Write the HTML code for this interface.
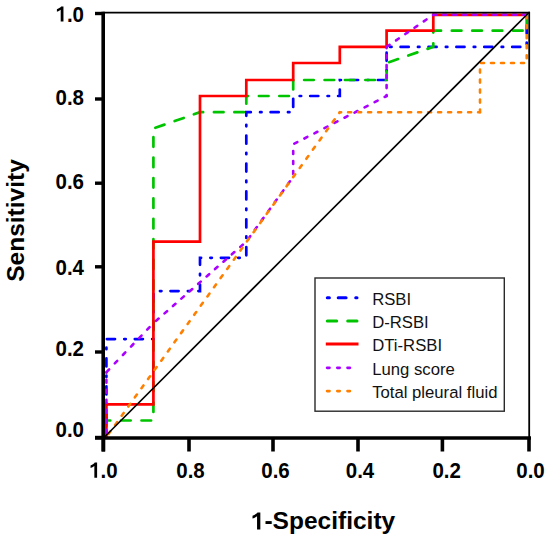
<!DOCTYPE html>
<html><head><meta charset="utf-8"><style>
html,body{margin:0;padding:0;background:#fff;width:550px;height:540px;overflow:hidden}
svg{display:block}
text{font-family:"Liberation Sans",sans-serif}
</style></head><body>
<svg width="550" height="540" viewBox="0 0 550 540">
<rect width="550" height="540" fill="#fff"/>
<path d="M106.40,437.00 L106.40,339.10 L153.40,339.10 L153.40,291.10 L200.00,291.10 L200.00,257.80 L246.30,257.80 L246.30,112.20 L293.20,112.20 L293.20,96.00 L339.80,96.00 L339.80,80.00 L386.60,80.00 L386.60,46.90 L526.70,46.90 L526.70,14.80" stroke="#0000ff" stroke-width="2.7" fill="none" stroke-linejoin="miter" stroke-linecap="round" stroke-dasharray="8.1 9.25 1.5 9.05" stroke-dashoffset="13.2"/>
<path d="M106.40,437.00 L106.40,420.50 L153.40,420.50 L153.40,128.50 L200.00,112.20 L246.30,112.20 L246.30,96.00 L293.20,96.00 L293.20,80.00 L386.60,80.00 L386.60,63.00 L433.30,46.90 L433.30,30.70 L526.70,30.70 L526.70,14.80" stroke="#00c400" stroke-width="2.7" fill="none" stroke-linejoin="miter" stroke-linecap="round" stroke-dasharray="9.6 10.8" stroke-dashoffset="9.6"/>
<path d="M106.40,437.00 L106.40,404.30 L153.40,404.30 L153.40,241.60 L200.00,241.60 L200.00,96.00 L246.30,96.00 L246.30,80.00 L293.20,80.00 L293.20,63.00 L339.80,63.00 L339.80,46.90 L386.60,46.90 L386.60,30.70 L433.30,30.70 L433.30,14.80 L526.70,14.80" stroke="#ff0000" stroke-width="2.7" fill="none" stroke-linejoin="miter"/>
<line x1="106.40" y1="437.00" x2="106.40" y2="372.20" stroke="#aa00ff" stroke-width="2.6" stroke-linecap="round" stroke-dasharray="3.00 7.00" stroke-dashoffset="5.80"/>
<line x1="106.40" y1="372.20" x2="153.40" y2="323.17" stroke="#aa00ff" stroke-width="2.6" stroke-linecap="round" stroke-dasharray="3.51 8.19" stroke-dashoffset="11.25"/>
<line x1="153.40" y1="323.17" x2="246.30" y2="241.60" stroke="#aa00ff" stroke-width="2.6" stroke-linecap="round" stroke-dasharray="3.36 7.84" stroke-dashoffset="7.58"/>
<line x1="246.30" y1="241.60" x2="293.20" y2="176.82" stroke="#aa00ff" stroke-width="2.6" stroke-linecap="round" stroke-dasharray="3.39 7.91" stroke-dashoffset="7.99"/>
<line x1="293.20" y1="176.82" x2="293.20" y2="144.29" stroke="#aa00ff" stroke-width="2.6" stroke-linecap="round" stroke-dasharray="3.00 7.00" stroke-dashoffset="7.20"/>
<line x1="293.20" y1="144.29" x2="386.60" y2="96.00" stroke="#aa00ff" stroke-width="2.6" stroke-linecap="round" stroke-dasharray="3.39 7.91" stroke-dashoffset="10.04"/>
<line x1="386.60" y1="96.00" x2="386.60" y2="46.90" stroke="#aa00ff" stroke-width="2.6" stroke-linecap="round" stroke-dasharray="3.00 7.00" stroke-dashoffset="2.10"/>
<line x1="386.60" y1="46.90" x2="433.30" y2="14.80" stroke="#aa00ff" stroke-width="2.6" stroke-linecap="round" stroke-dasharray="3.36 7.84" stroke-dashoffset="10.92"/>
<line x1="433.30" y1="14.80" x2="526.70" y2="14.80" stroke="#aa00ff" stroke-width="2.6" stroke-linecap="round" stroke-dasharray="3.00 7.00" stroke-dashoffset="0.10"/>
<line x1="106.40" y1="437.00" x2="339.80" y2="112.20" stroke="#ff8000" stroke-width="2.6" stroke-linecap="round" stroke-dasharray="3.39 7.91" stroke-dashoffset="7.69"/>
<line x1="339.80" y1="112.20" x2="480.00" y2="112.20" stroke="#ff8000" stroke-width="2.6" stroke-linecap="round" stroke-dasharray="3.00 7.00" stroke-dashoffset="1.70"/>
<line x1="480.00" y1="112.20" x2="480.00" y2="63.00" stroke="#ff8000" stroke-width="2.6" stroke-linecap="round" stroke-dasharray="3.00 7.00" stroke-dashoffset="0.40"/>
<line x1="480.00" y1="63.00" x2="526.70" y2="63.00" stroke="#ff8000" stroke-width="2.6" stroke-linecap="round" stroke-dasharray="3.00 7.00" stroke-dashoffset="9.00"/>
<line x1="526.70" y1="63.00" x2="526.70" y2="14.80" stroke="#ff8000" stroke-width="2.6" stroke-linecap="round" stroke-dasharray="3.00 7.00" stroke-dashoffset="5.30"/>
<line x1="103.5" y1="438" x2="528.8" y2="12.7" stroke="#000" stroke-width="1.6"/>
<line x1="103.5" y1="12.6" x2="530" y2="12.6" stroke="#000" stroke-width="1.8"/>
<line x1="529.2" y1="11.7" x2="529.2" y2="438" stroke="#000" stroke-width="1.8"/>
<line x1="103.2" y1="11.7" x2="103.2" y2="451.5" stroke="#000" stroke-width="3.6"/>
<line x1="95" y1="438" x2="531" y2="438" stroke="#000" stroke-width="3.4"/>
<line x1="95" y1="13.5" x2="104" y2="13.5" stroke="#000" stroke-width="3.4"/>
<line x1="95" y1="99" x2="104" y2="99" stroke="#000" stroke-width="3.4"/>
<line x1="95" y1="183.2" x2="104" y2="183.2" stroke="#000" stroke-width="3.4"/>
<line x1="95" y1="266.8" x2="104" y2="266.8" stroke="#000" stroke-width="3.4"/>
<line x1="95" y1="352" x2="104" y2="352" stroke="#000" stroke-width="3.4"/>
<line x1="95" y1="437.5" x2="104" y2="437.5" stroke="#000" stroke-width="3.4"/>
<line x1="103.5" y1="437" x2="103.5" y2="451.5" stroke="#000" stroke-width="3.6"/>
<line x1="189" y1="437" x2="189" y2="451.5" stroke="#000" stroke-width="3.6"/>
<line x1="273" y1="437" x2="273" y2="451.5" stroke="#000" stroke-width="3.6"/>
<line x1="358" y1="437" x2="358" y2="451.5" stroke="#000" stroke-width="3.6"/>
<line x1="442.4" y1="437" x2="442.4" y2="451.5" stroke="#000" stroke-width="3.6"/>
<line x1="529" y1="437" x2="529" y2="451.5" stroke="#000" stroke-width="3.6"/>
<path d="M795 0H520V1090Q330 960 140 905V1135Q300 1190 420 1280Q520 1355 560 1409H795Z" transform="translate(55.50,21.50) scale(0.01001,-0.01071)" fill="#000"/>
<text transform="translate(84.0,21.5) scale(1,1.07)" font-family="Liberation Sans, sans-serif" font-weight="bold" font-size="20.5" text-anchor="end">.0</text>
<text transform="translate(84.0,104.9) scale(1,1.07)" font-family="Liberation Sans, sans-serif" font-weight="bold" font-size="20.5" text-anchor="end">0.8</text>
<text transform="translate(84.0,188.8) scale(1,1.07)" font-family="Liberation Sans, sans-serif" font-weight="bold" font-size="20.5" text-anchor="end">0.6</text>
<text transform="translate(84.0,274.6) scale(1,1.07)" font-family="Liberation Sans, sans-serif" font-weight="bold" font-size="20.5" text-anchor="end">0.4</text>
<text transform="translate(84.0,356.4) scale(1,1.07)" font-family="Liberation Sans, sans-serif" font-weight="bold" font-size="20.5" text-anchor="end">0.2</text>
<text transform="translate(84.0,437.3) scale(1,1.07)" font-family="Liberation Sans, sans-serif" font-weight="bold" font-size="20.5" text-anchor="end">0.0</text>
<path d="M795 0H520V1090Q330 960 140 905V1135Q300 1190 420 1280Q520 1355 560 1409H795Z" transform="translate(89.15,477.70) scale(0.01001,-0.01071)" fill="#000"/>
<text transform="translate(100.55,477.7) scale(1,1.07)" font-family="Liberation Sans, sans-serif" font-weight="bold" font-size="20.5">.0</text>
<text transform="translate(190.5,477.7) scale(1,1.07)" font-family="Liberation Sans, sans-serif" font-weight="bold" font-size="20.5" text-anchor="middle">0.8</text>
<text transform="translate(275.5,477.7) scale(1,1.07)" font-family="Liberation Sans, sans-serif" font-weight="bold" font-size="20.5" text-anchor="middle">0.6</text>
<text transform="translate(360.0,477.7) scale(1,1.07)" font-family="Liberation Sans, sans-serif" font-weight="bold" font-size="20.5" text-anchor="middle">0.4</text>
<text transform="translate(446.7,477.7) scale(1,1.07)" font-family="Liberation Sans, sans-serif" font-weight="bold" font-size="20.5" text-anchor="middle">0.2</text>
<text transform="translate(530.5,477.7) scale(1,1.07)" font-family="Liberation Sans, sans-serif" font-weight="bold" font-size="20.5" text-anchor="middle">0.0</text>
<path d="M795 0H520V1090Q330 960 140 905V1135Q300 1190 420 1280Q520 1355 560 1409H795Z" transform="translate(250.83,529.40) scale(0.01196,-0.01196)" fill="#000"/>
<text x="264.46" y="529.4" font-family="Liberation Sans, sans-serif" font-weight="bold" font-size="24.5">-Specificity</text>
<text transform="translate(24.0,220.5) rotate(-90)" font-family="Liberation Sans, sans-serif" font-weight="bold" font-size="24.5" text-anchor="middle">Sensitivity</text>
<rect x="315" y="278" width="189.3" height="133.2" fill="#fff" stroke="#2a2a2a" stroke-width="1.4"/>
<line x1="327.3" y1="297.8" x2="357.0" y2="297.8" stroke="#0000ff" stroke-width="3" stroke-linecap="round" stroke-dasharray="2.1 8.8 7.9 9.6 1.3 100"/>
<line x1="327.3" y1="321.0" x2="357.0" y2="321.0" stroke="#00c400" stroke-width="3" stroke-linecap="round" stroke-dasharray="9.4 11 9.3 100"/>
<line x1="325.8" y1="344.1" x2="358.5" y2="344.1" stroke="#ff0000" stroke-width="3"/>
<line x1="327.15" y1="367.8" x2="349.85" y2="367.8" stroke="#aa00ff" stroke-width="2.8" stroke-linecap="round" stroke-dasharray="2.3 7.9"/>
<line x1="327.15" y1="391.1" x2="349.85" y2="391.1" stroke="#ff8000" stroke-width="2.8" stroke-linecap="round" stroke-dasharray="2.3 7.9"/>
<text x="372.2" y="304.6" font-family="Liberation Sans, sans-serif" font-size="16.7" fill="#111">RSBI</text>
<text x="372.2" y="327.7" font-family="Liberation Sans, sans-serif" font-size="16.7" fill="#111">D-RSBI</text>
<text x="372.2" y="350.8" font-family="Liberation Sans, sans-serif" font-size="16.7" fill="#111">DTi-RSBI</text>
<text x="372.2" y="374.5" font-family="Liberation Sans, sans-serif" font-size="16.7" fill="#111">Lung score</text>
<text x="372.2" y="398.3" font-family="Liberation Sans, sans-serif" font-size="16.7" fill="#111">Total pleural fluid</text>
</svg>
</body></html>
